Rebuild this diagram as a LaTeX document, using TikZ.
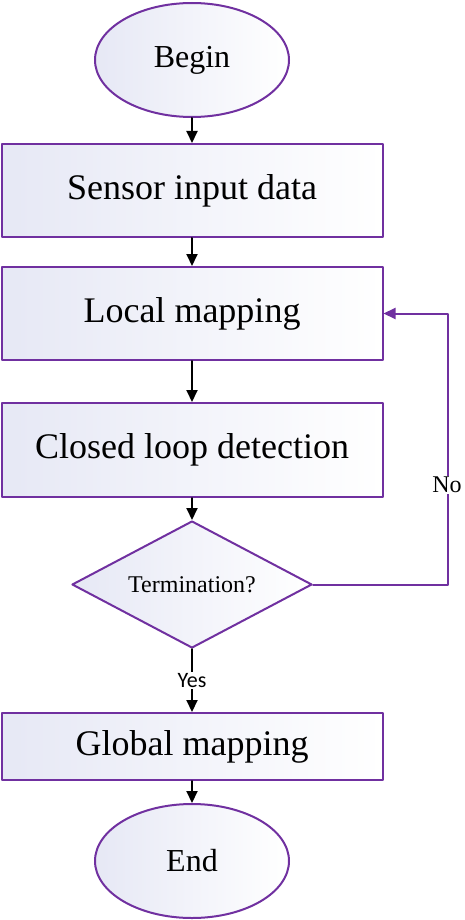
\documentclass[tikz,border=0pt]{standalone}
\usepackage{fontspec}
\setmainfont{Liberation Serif}
\newfontfamily\yesfont{Carlito}
\usepackage{tikz}
\usetikzlibrary{arrows,arrows.meta}
\usetikzlibrary{shapes.geometric}
\definecolor{vio}{RGB}{112,48,160}
\definecolor{lav}{RGB}{230,232,245}
\begin{document}
\begin{tikzpicture}[line cap=round,line join=round,>={Triangle[length=12pt,width=11pt]},x=1pt,y=-1pt,
    blk/.style={draw=vio,line width=2pt,left color=lav,right color=white,inner sep=0pt,font=\fontsize{36}{40}\selectfont},
    term/.style={blk,ellipse,minimum width=194pt,minimum height=114pt,font=\fontsize{32}{36}\selectfont},
    proc/.style={blk,rectangle,minimum width=381pt},
    cond/.style={blk,diamond,aspect=1.9,minimum width=240pt,minimum height=127pt,font=\fontsize{24}{28}\selectfont},
    flow/.style={->,color=black,line width=2pt}]
        \useasboundingbox (0,0) rectangle (464,920);
        \node[term] (begin) at (192,60) {Begin};
        \node[proc,minimum height=93pt] (sensor) at (192,190.5) {Sensor input data};
        \node[proc,minimum height=93pt] (local) at (192,313.5) {Local mapping};
        \node[proc,minimum height=94pt] (loop) at (192,450) {Closed loop detection};
        \node[cond] (stop) at (192,584.5) {Termination?};
        \node[proc,minimum height=67pt] (global) at (192,746.5) {Global mapping};
        \node[term] (end) at (192,861) {End};
        \coordinate (back) at (448,584.5);
        \draw[flow] (begin) -- (sensor);
        \draw[flow] (sensor) -- (local);
        \draw[flow] (local) -- (loop);
        \draw[flow] (loop) -- (stop);
        \draw[flow] (stop) -- node[fill=white,inner sep=1pt,font=\yesfont\fontsize{22}{24}\selectfont] (yes) {Yes} (global);
        \draw[flow] (global) -- (end);
        \draw[->,color=vio,line width=2pt] (stop.east) -- (back) |- (local.east);
        \node[fill=white,inner sep=1pt,font=\fontsize{24}{28}\selectfont] (no) at (447,485) {No};
\end{tikzpicture}
\end{document}
